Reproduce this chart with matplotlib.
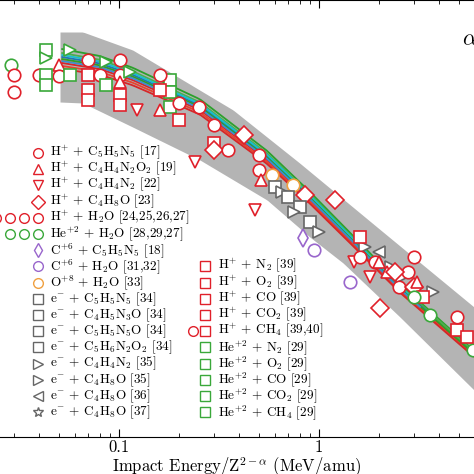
import numpy as np
import matplotlib
matplotlib.use("Agg")
import matplotlib.pyplot as plt

plt.rcParams['mathtext.fontset'] = 'cm'
plt.rcParams['font.family'] = ['cmr10', 'DejaVu Serif']
plt.rcParams['axes.formatter.use_mathtext'] = True

# grey uncertainty band (energy in MeV/amu, height in arbitrary log units)
band_x_up = [0.0507, 0.066, 0.117, 0.372, 0.80, 1.95, 5.96, 8.0]
band_y_up = [405, 405, 387, 327, 274, 210, 130, 110]
band_x_lo = [0.0507, 0.066, 0.117, 0.254, 0.55, 0.9, 1.32, 2.54, 5.96, 8.0]
band_y_lo = [335, 334, 310, 277, 237, 200, 174, 120, 47, 25]

# model curves
curve_x = [0.052, 0.08, 0.117, 0.254, 0.55, 0.9, 1.43, 2.54, 5.96]
curve_y = [374, 368, 357, 327, 277, 237, 197, 147, 82]
curve_colors = ['#2ca02c', '#4caf50', '#1f77b4', '#ff7f0e', '#d62728', '#e8432e',
                '#17becf', '#2ca02c', '#d62728', '#3a8fd0']
curve_shift = [14, 10, 6, 3, 0, -3, 8, 4, -6, 2]
curve_end = [6.0, 6.0, 3.6, 4.5, 6.0, 6.0, 3.0, 6.0, 6.0, 3.2]

# measured points: energy, height, marker, colour
pts_x = [0.0299, 0.0288, 0.0299, 0.040, 0.0501, 0.0501, 0.0432, 0.0432, 0.0432, 0.0432,
         0.057, 0.057, 0.07, 0.07, 0.08, 0.101, 0.101, 0.101, 0.086, 0.086,
         0.07, 0.07, 0.101, 0.101, 0.123, 0.113, 0.18, 0.18, 0.18, 0.161,
         0.161, 0.161, 0.2, 0.2, 0.25, 0.24, 0.3, 0.3, 0.3, 0.35,
         0.42, 0.5, 0.5, 0.51, 0.58, 0.74, 0.48, 0.85, 1.2, 0.83,
         0.94, 1.43, 1.5, 2.02, 3.6, 5.9, 4.9, 3.7, 0.6, 0.65,
         0.7, 0.8, 0.75, 0.9, 1.0, 1.7, 2.0, 2.3, 2.6, 1.9,
         2.2, 2.5, 3.0, 3.3, 1.6, 1.8, 2.8, 3.1, 4.9, 5.5,
         1.6, 2.0, 2.4, 3.0, 3.0]
pts_y = [345, 372, 362, 362, 372, 361, 387, 379, 362, 352,
         387, 362, 377, 362, 362, 377, 362, 355, 375, 352,
         347, 337, 342, 332, 327, 365, 357, 345, 330, 362,
         347, 327, 317, 334, 330, 275, 312, 294, 287, 287,
         302, 282, 267, 257, 262, 252, 227, 242, 237, 199,
         187, 155, 175, 129, 122, 87, 107, 145, 250, 245,
         240, 230, 225, 215, 205, 190, 185, 170, 160, 175,
         165, 150, 150, 140, 180, 160, 165, 155, 120, 100,
         200, 175, 165, 180, 140]
pts_m = ['o', 'o', 'o', 'o', '^', 'o', 's', '>', 's', 's',
         '>', 's', 'o', 's', 'o', 'o', 'o', '^', '>', 's',
         's', 's', 's', 's', 'v', '>', 's', 's', 's', 'o',
         's', '^', 's', 'o', 'o', 'v', 'o', 's', 'D', 'o',
         'D', 'o', 'o', '^', 'o', 'o', 'v', 'D', 'D', 'd',
         'o', 'o', 'v', 'D', 'o', 'o', 's', '>', 's', '>',
         's', 's', '>', 's', '>', '>', '<', '>', '>', 'o',
         '^', 'o', 'D', 's', 'o', 'v', 'o', '^', 'o', 's',
         's', '^', 'D', 'o', 'o']
pts_c = ['r', 'g', 'r', 'r', 'r', 'r', 'g', 'g', 'g', 'g',
         'g', 'g', 'r', 'r', 'r', 'r', 'r', 'r', 'g', 'g',
         'r', 'r', 'r', 'r', 'r', 'g', 'g', 'g', 'g', 'r',
         'r', 'r', 'r', 'r', 'r', 'r', 'r', 'r', 'r', 'r',
         'r', 'r', 'r', 'r', 'o', 'o', 'r', 'r', 'r', 'p',
         'p', 'p', 'r', 'r', 'g', 'g', 'r', 'k', 'k', 'k',
         'k', 'k', 'k', 'k', 'k', 'k', 'k', 'k', 'k', 'r',
         'r', 'r', 'r', 'r', 'r', 'r', 'r', 'r', 'r', 'r',
         'r', 'r', 'r', 'r', 'g']
cmap = {'r': '#e0202a', 'g': '#3aa83a', 'k': '#666666', 'o': '#f0a040', 'p': '#9966cc'}

left_labels = [r'H$^{+}$ + C$_5$H$_5$N$_5$ [17]', r'H$^{+}$ + C$_4$H$_4$N$_2$O$_2$ [19]',
               r'H$^{+}$ + C$_4$H$_4$N$_2$ [22]', r'H$^{+}$ + C$_4$H$_8$O [23]',
               r'H$^{+}$ + H$_2$O [24,25,26,27]', r'He$^{+2}$ + H$_2$O [28,29,27]',
               r'C$^{+6}$ + C$_5$H$_5$N$_5$ [18]', r'C$^{+6}$ + H$_2$O [31,32]',
               r'O$^{+8}$ + H$_2$O [33]', r'e$^{-}$ + C$_5$H$_5$N$_5$ [34]',
               r'e$^{-}$ + C$_4$H$_5$N$_3$O [34]', r'e$^{-}$ + C$_5$H$_5$N$_5$O [34]',
               r'e$^{-}$ + C$_5$H$_6$N$_2$O$_2$ [34]', r'e$^{-}$ + C$_4$H$_4$N$_2$ [35]',
               r'e$^{-}$ + C$_4$H$_8$O [35]', r'e$^{-}$ + C$_4$H$_8$O [36]',
               r'e$^{-}$ + C$_4$H$_8$O [37]']
left_marks = ['o', '^', 'v', 'D', 'o', 'o', 'd', 'o', 'o', 's', 's', 's', 's', '>', '>', '<', '*']
left_cols = ['r', 'r', 'r', 'r', 'r', 'g', 'p', 'p', 'o', 'k', 'k', 'k', 'k', 'k', 'k', 'k', 'k']
left_n = [1, 1, 1, 1, 4, 3, 1, 1, 1, 1, 1, 1, 1, 1, 1, 1, 1]

right_labels = [r'H$^{+}$ + N$_2$ [39]', r'H$^{+}$ + O$_2$ [39]', r'H$^{+}$ + CO [39]',
                r'H$^{+}$ + CO$_2$ [39]', r'H$^{+}$ + CH$_4$ [39,40]',
                r'He$^{+2}$ + N$_2$ [29]', r'He$^{+2}$ + O$_2$ [29]', r'He$^{+2}$ + CO [29]',
                r'He$^{+2}$ + CO$_2$ [29]', r'He$^{+2}$ + CH$_4$ [29]']
right_cols = ['r'] * 5 + ['g'] * 5

fig = plt.figure(figsize=(4.74, 4.74), dpi=100)
ax = fig.add_axes([-0.1, 0.078, 1.2, 0.922])
ax.set_xscale('log')
ax.set_xlim(10 ** -1.832, 10 ** 1.012)
ax.set_ylim(0, 437)

bx = np.logspace(np.log10(0.0507), np.log10(8.0), 200)
ax.fill_between(bx, np.interp(np.log10(bx), np.log10(band_x_lo), band_y_lo),
                np.interp(np.log10(bx), np.log10(band_x_up), band_y_up),
                color='#b4b4b4', lw=0, zorder=1)

for c, s, e in zip(curve_colors, curve_shift, curve_end):
    cx = np.logspace(np.log10(0.052), np.log10(e), 120)
    cy = np.interp(np.log10(cx), np.log10(curve_x), curve_y) + s * np.interp(np.log10(cx), [-1.3, 0.8], [1.0, 0.3])
    ax.plot(cx, cy, color=c, lw=1.3, zorder=2)

for x, y, m, c in zip(pts_x, pts_y, pts_m, pts_c):
    ax.plot(x, y, marker=m, ms=9, mfc='white', mec=cmap[c], mew=1.2, ls='none', zorder=3)

ax.tick_params(which='both', direction='in', top=True, pad=2)
ax.tick_params(which='major', length=6)
ax.tick_params(which='minor', length=3)
ax.set_yticks([])
ax.set_xticks([0.1, 1])
ax.set_xticklabels(['0.1', '1'], fontsize=12)
ax.set_xlabel(r'Impact Energy/Z$^{2-\alpha}$ (MeV/amu)', fontsize=12, labelpad=0)
fig.text(0.975, 0.905, r'$\alpha$', fontsize=16)

# hand-made legend
y0 = 1 - 153 / 474
dy = 16.2 / 474
fs = 9.5
for i, (lab, m, c, n) in enumerate(zip(left_labels, left_marks, left_cols, left_n)):
    yy = y0 - i * dy
    for k in range(n):
        fig.lines.append(plt.Line2D([38 / 474 - k * 14 / 474], [yy], marker=m, ms=7, mfc='white',
                                    mec=cmap[c], mew=1.0, ls='none', transform=fig.transFigure))
    fig.text(50 / 474, yy, lab, fontsize=fs, va='center')
for i, (lab, c) in enumerate(zip(right_labels, right_cols)):
    yy = y0 - (i + 7) * dy
    fig.lines.append(plt.Line2D([205 / 474], [yy], marker='s', ms=7, mfc='white',
                                mec=cmap[c], mew=1.0, ls='none', transform=fig.transFigure))
    fig.text(218 / 474, yy, lab, fontsize=fs, va='center')
fig.lines.append(plt.Line2D([193 / 474], [y0 - 11 * dy], marker='o', ms=7, mfc='white',
                            mec=cmap['r'], mew=1.0, ls='none', transform=fig.transFigure))

fig.savefig('out.png', dpi=100)
